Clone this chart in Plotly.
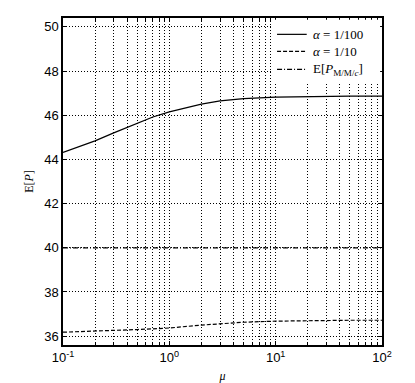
import plotly.graph_objects as go

mu = [0.1, 0.2, 0.3, 0.5, 0.7, 1, 2, 3, 5, 10, 20, 50, 100]
ep_alpha_100 = [44.32, 44.84, 45.2, 45.65, 45.92, 46.15, 46.5, 46.65, 46.75, 46.82, 46.85, 46.86, 46.86]
ep_alpha_10 = [36.18, 36.22, 36.25, 36.3, 36.33, 36.37, 36.5, 36.57, 36.63, 36.68, 36.71, 36.72, 36.72]
ep_mmc = [40.0] * len(mu)

series_names = ["<i>α</i> = 1/100", "<i>α</i> = 1/10", "E[<i>P</i><sub>M/M/<i>c</i></sub>]"]
series_dash = ["solid", "4px,2px", "5px,2px,1px,2px"]

x_tickvals = [0.1, 1, 10, 100]
x_ticktext = ["10<sup>-1</sup>", "10<sup>0</sup>", "10<sup>1</sup>", "10<sup>2</sup>"]
x_minorvals = [0.2, 0.3, 0.4, 0.5, 0.6, 0.7, 0.8, 0.9,
               2, 3, 4, 5, 6, 7, 8, 9,
               20, 30, 40, 50, 60, 70, 80, 90]
y_tickvals = [36, 38, 40, 42, 44, 46, 48, 50]

serif = "Liberation Serif, DejaVu Serif, serif"
sans = "Liberation Sans, Arial, sans-serif"

fig = go.Figure()
for yv, nm, ds in zip([ep_alpha_100, ep_alpha_10, ep_mmc], series_names, series_dash):
    fig.add_trace(go.Scatter(x=mu, y=yv, mode="lines", name=nm,
                             line=dict(color="black", width=1.2, dash=ds)))

grid_dash = "1px,2px"
axis_common = dict(
    showline=True, linecolor="black", linewidth=1.5, mirror="ticks",
    ticks="inside", ticklen=4, tickcolor="black",
    showgrid=True, gridcolor="black", griddash=grid_dash, gridwidth=1,
    zeroline=False, tickfont=dict(family=sans, size=13, color="black"),
    automargin=False,
)

fig.update_xaxes(type="log", range=[-1, 2], tickvals=x_tickvals, ticktext=x_ticktext,
                 minor=dict(ticks="inside", ticklen=3, tickcolor="black", showgrid=True,
                            gridcolor="black", griddash=grid_dash, gridwidth=1,
                            tickvals=x_minorvals),
                 title=dict(text="<i>μ</i>", font=dict(family=serif, size=12, color="black"), standoff=8),
                 **axis_common)
fig.update_yaxes(range=[35.6, 50.4], tickvals=y_tickvals,
                 title=dict(text="E[<i>P</i>]", font=dict(family=serif, size=12, color="black"), standoff=8),
                 **axis_common)

# manual legend (paper coordinates)
shapes = [dict(type="rect", xref="paper", yref="paper", x0=0.658, x1=0.994, y0=0.80, y1=0.995,
               fillcolor="white", line=dict(width=0), layer="above")]
annotations = []
row_y = [0.95, 0.898, 0.843]
for ry, nm, ds in zip(row_y, series_names, series_dash):
    shapes.append(dict(type="line", xref="paper", yref="paper", x0=0.671, x1=0.764, y0=ry, y1=ry,
                       line=dict(color="black", width=1.2, dash=ds), layer="above"))
    annotations.append(dict(xref="paper", yref="paper", x=0.778, y=ry, text=nm, showarrow=False,
                            xanchor="left", yanchor="middle",
                            font=dict(family=serif, size=13, color="black")))

fig.update_layout(
    width=415, height=383,
    margin=dict(l=63, r=33, t=18, b=38),
    plot_bgcolor="white", paper_bgcolor="white",
    showlegend=False,
    shapes=shapes, annotations=annotations,
)

fig.write_html("out.html", config={"displayModeBar": False},
               post_script="document.body.style.margin='0';document.body.style.padding='0';")
